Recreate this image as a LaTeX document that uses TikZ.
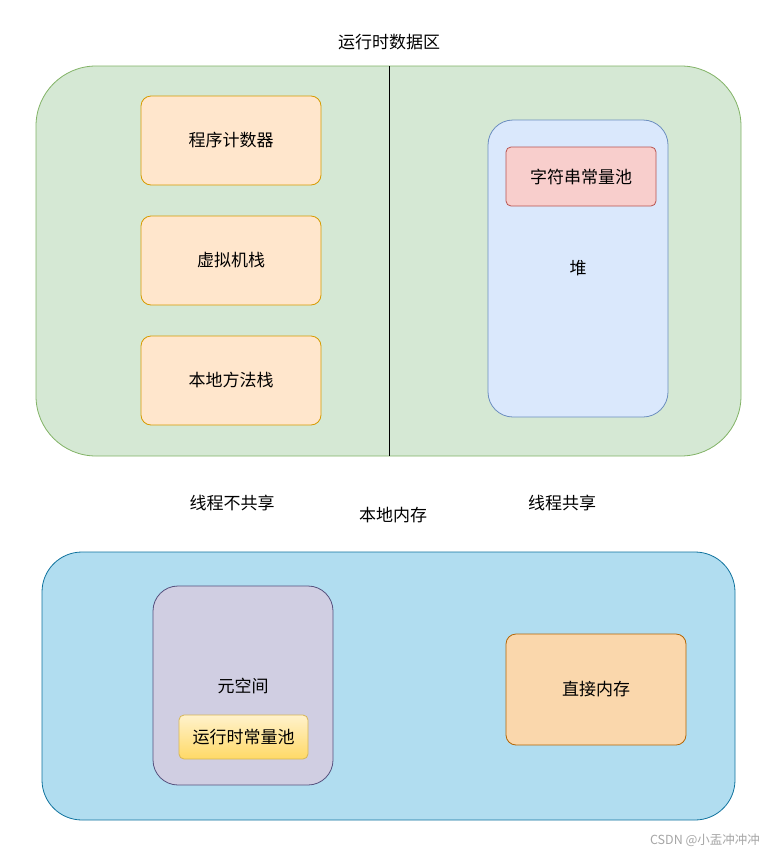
\documentclass[tikz,border=0pt]{standalone}
\usepackage{fontspec}
\setmainfont{Noto Sans CJK SC}
\begin{document}
\begin{tikzpicture}[x=1pt,y=-1pt,
  lbl/.style={font=\fontsize{17}{19}\selectfont},
  box/.style={draw,rounded corners=10pt,line width=0.8pt,font=\fontsize{17}{19}\selectfont}]
\definecolor{gF}{HTML}{D5E8D4}\definecolor{gS}{HTML}{82B366}
\definecolor{oF}{HTML}{FFE6CC}\definecolor{oS}{HTML}{D79B00}
\definecolor{bF}{HTML}{DAE8FC}\definecolor{bS}{HTML}{6C8EBF}
\definecolor{rF}{HTML}{F8CECC}\definecolor{rS}{HTML}{B85450}
\definecolor{cF}{HTML}{B1DDF0}\definecolor{cS}{HTML}{10739E}
\definecolor{pF}{HTML}{D0CEE2}\definecolor{pS}{HTML}{56517E}
\definecolor{yA}{HTML}{FFF2CC}\definecolor{yB}{HTML}{FFD966}\definecolor{yS}{HTML}{D6B656}
\definecolor{dF}{HTML}{FAD7AC}\definecolor{dS}{HTML}{B46504}
\useasboundingbox[fill=white] (0,0) rectangle (777,854);
\node[lbl] (t1) at (389,42) {运行时数据区};
\draw[fill=gF,draw=gS,rounded corners=60pt,line width=0.8pt] (36,66) rectangle (741,456);
\coordinate (vt) at (389,66); \coordinate (vb) at (389,456);
\draw[line width=0.8pt] (vt) -- (vb);
\node[box,fill=oF,draw=oS,minimum width=180pt,minimum height=89pt] (pc) at (231,140.5) {程序计数器};
\node[box,fill=oF,draw=oS,minimum width=180pt,minimum height=89pt] (vm) at (231,260.5) {虚拟机栈};
\node[box,fill=oF,draw=oS,minimum width=180pt,minimum height=89pt] (ns) at (231,380.5) {本地方法栈};
\node[box,fill=bF,draw=bS,rounded corners=25pt,minimum width=180pt,minimum height=297pt] (heap) at (578,268.5) {堆};
\node[box,fill=rF,draw=rS,rounded corners=5pt,minimum width=150pt,minimum height=59pt] (sp) at (581,176.5) {字符串常量池};
\node[lbl] (l1) at (232,503) {线程不共享};
\node[lbl] (l2) at (562,503) {线程共享};
\node[lbl] (t2) at (393,515) {本地内存};
\draw[fill=cF,draw=cS,rounded corners=40pt,line width=0.8pt] (42,552) rectangle (735,820);
\node[box,fill=pF,draw=pS,rounded corners=25pt,minimum width=180pt,minimum height=199pt] (meta) at (243,685.5) {};
\node[lbl] (metal) at (243,686) {元空间};
\node[box,top color=yA,bottom color=yB,draw=yS,rounded corners=5pt,minimum width=129pt,minimum height=44pt] (rcp) at (243.5,737) {运行时常量池};
\node[box,fill=dF,draw=dS,minimum width=180pt,minimum height=111pt] (dm) at (596,689.5) {直接内存};
\node[font=\fontsize{12.5}{14}\selectfont,text=gray!70] (wm) at (705,840) {CSDN @小盂冲冲冲};
\end{tikzpicture}
\end{document}
